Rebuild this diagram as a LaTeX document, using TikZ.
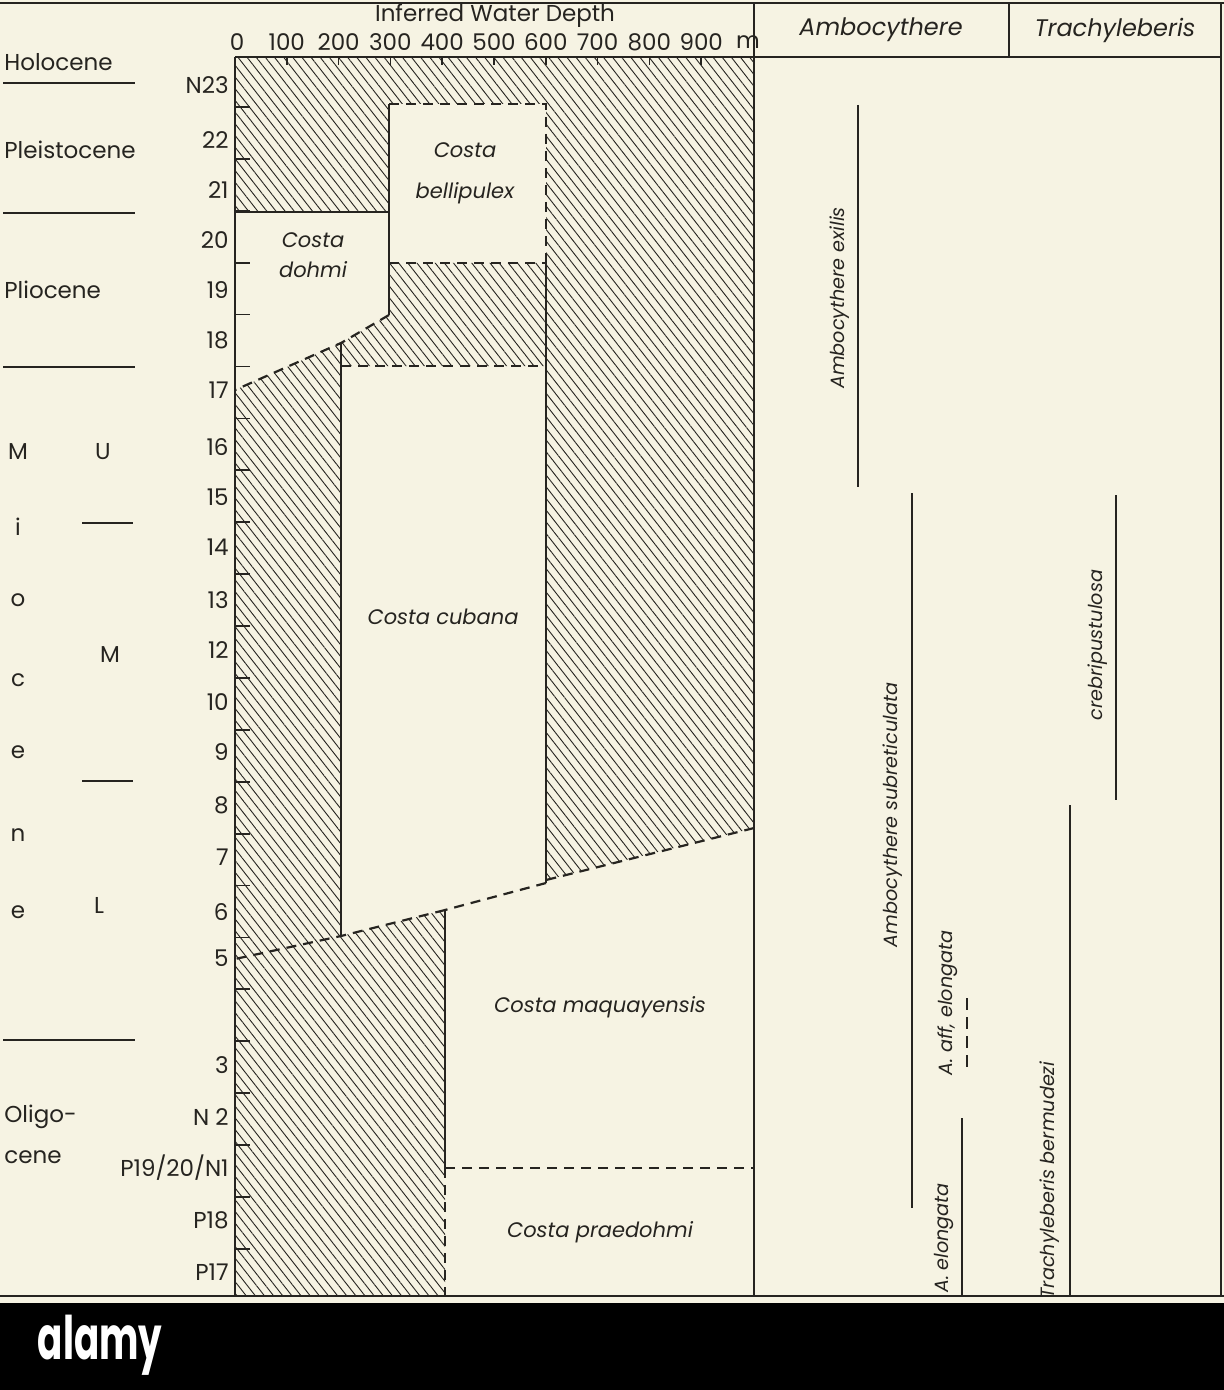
\documentclass[tikz,border=0pt]{standalone}
\usepackage{fontspec}
\setmainfont{Poppins}
\usetikzlibrary{patterns.meta}
\definecolor{paper}{HTML}{F6F3E3}
\definecolor{ink}{HTML}{262420}
\tikzset{
  ln/.style={draw=ink,line width=1.1pt},
  dl/.style={draw=ink,line width=1.1pt,dash pattern=on 5pt off 3.5pt},
  hatch/.style={pattern={Lines[angle=-52,distance=3.6pt,line width=0.45pt]},pattern color=ink},
  lab/.style={text=ink,font=\fontsize{11.5}{12}\selectfont,inner sep=0pt},
  zl/.style={lab,anchor=east},
  sp/.style={text=ink,font=\fontsize{10.5}{12}\selectfont\itshape,inner sep=0pt},
  rl/.style={sp,font=\fontsize{9.6}{12}\selectfont\itshape,rotate=90}
}
\begin{document}
\begin{tikzpicture}[x=0.5pt,y=-0.5pt]
\useasboundingbox (0,0) rectangle (1224,1390);
\fill[paper] (0,0) rectangle (1224,1303);
\fill[black] (0,1303) rectangle (1224,1390);
\node[text=white,font=\fontsize{30}{30}\selectfont\bfseries,inner sep=0pt,xscale=0.62] (alamy) at (100,1345) {alamy};
% hatched areas
\path[hatch] (235,57)--(754,57)--(754,828)--(546,880)--(546,104)--(389,104)--(389,212)--(235,212)--cycle;
\path[hatch] (389,263)--(546,263)--(546,366)--(341,366)--(341,936)--(445,910)--(445,1296)--(235,1296)--(235,390)--(341,343)--(389,315)--cycle;
% frame
\draw[ln] (0,3)--(1224,3);
\draw[ln] (0,1296)--(1224,1296);
\draw[ln] (754,3)--(754,1296);
\draw[ln] (1221,3)--(1221,1296);
\draw[ln] (754,57)--(1221,57);
\draw[ln] (1009,3)--(1009,57);
\draw[ln] (235,57)--(754,57);
\draw[ln] (235,57)--(235,1296);
\foreach \k in {1,...,9} \draw[ln,line width=0.8pt] ({235+51.8*\k},57)--++(0,8);
\foreach \k in {0,...,22} \draw[ln,line width=0.9pt] (235,{107+51.9*\k})--++(15,0);
% region boundaries
\draw[ln] (235,212)--(389,212);
\draw[ln] (389,104)--(389,315);
\draw[dl] (389,104)--(546,104)--(546,263);
\draw[dl] (389,263)--(546,263);
\draw[ln] (546,263)--(546,883);
\draw[dl] (389,315)--(341,343)--(235,390);
\draw[ln] (341,343)--(341,936);
\draw[dl] (341,366)--(546,366);
\draw[dl] (754,828)--(546,880);
\draw[dl] (546,883)--(445,910);
\draw[dl] (445,910)--(341,936)--(235,959);
\draw[ln] (445,910)--(445,1168);
\draw[dl] (445,1168)--(445,1296);
\draw[dl] (445,1168)--(754,1168);
% header
\node[lab] (hd) at (495,16) {Inferred Water Depth};
\node[lab] (d0) at (237,42) {0};
\foreach \v [count=\k] in {100,200,300,400,500,600,700,800,900}
  \node[lab] (d\k) at ({235+51.8*\k},42) {\v};
\node[lab] (dm) at (748,42) {m};
\node[sp,font=\fontsize{12}{12}\selectfont\itshape] (amb) at (881,30) {Ambocythere};
\node[sp,font=\fontsize{12}{12}\selectfont\itshape] (tra) at (1115,30) {Trachyleberis};
% zone labels
\foreach \t/\y [count=\i] in {N23/85,22/140,21/190,20/240,19/290,18/340,17/390,16/447,15/497,14/547,13/600,12/650,10/702,9/752,8/805,7/857,6/912,5/958,3/1065,N 2/1117,{P19/20/N1}/1168,P18/1220,P17/1272}
  \node[zl] (z\i) at (229,\y) {\t};
% epochs
\node[lab,anchor=west] (holo) at (4,62) {Holocene};
\draw[ln] (3,83)--(135,83);
\node[lab,anchor=west] (plei) at (4,150) {Pleistocene};
\draw[ln] (3,213)--(135,213);
\node[lab,anchor=west] (plio) at (4,290) {Pliocene};
\draw[ln] (3,367)--(135,367);
\node[lab] (m1) at (18,452) {M};
\node[lab] (u) at (103,452) {U};
\node[lab] (i1) at (18,527) {i};
\draw[ln] (82,523)--(133,523);
\node[lab] (o1) at (18,600) {o};
\node[lab] (m2) at (110,655) {M};
\node[lab] (c1) at (18,680) {c};
\node[lab] (e1) at (18,752) {e};
\draw[ln] (82,781)--(133,781);
\node[lab] (n1) at (18,835) {n};
\node[lab] (e2) at (18,912) {e};
\node[lab] (l1) at (99,905) {L};
\draw[ln] (3,1040)--(135,1040);
\node[lab,anchor=west] (oli) at (4,1117) {Oligo-};
\node[lab,anchor=west] (cene) at (4,1157) {cene};
% costa labels
\node[sp] (cb1) at (465,150) {Costa};
\node[sp] (cb2) at (465,193) {bellipulex};
\node[sp] (cd1) at (313,240) {Costa};
\node[sp] (cd2) at (313,270) {dohmi};
\node[sp] (cc) at (443,617) {Costa cubana};
\node[sp] (cm) at (600,1007) {Costa maquayensis};
\node[sp] (cp) at (600,1232) {Costa praedohmi};
% ranges
\draw[ln] (858,105)--(858,487);
\node[rl] (ex) at (840,298) {Ambocythere exilis};
\draw[ln] (912,493)--(912,1208);
\node[rl] (sub) at (893,815) {Ambocythere subreticulata};
\draw[dl,line width=1.4pt,dash pattern=on 6pt off 3.5pt] (967,998)--(967,1068);
\node[rl] (aff) at (948,1003) {A. aff, elongata};
\draw[ln] (962,1118)--(962,1296);
\node[rl] (el) at (944,1238) {A. elongata};
\draw[ln] (1070,805)--(1070,1296);
\node[rl] (ber) at (1050,1180) {Trachyleberis bermudezi};
\draw[ln] (1116,495)--(1116,800);
\node[rl] (cre) at (1098,645) {crebripustulosa};
\end{tikzpicture}
\end{document}
